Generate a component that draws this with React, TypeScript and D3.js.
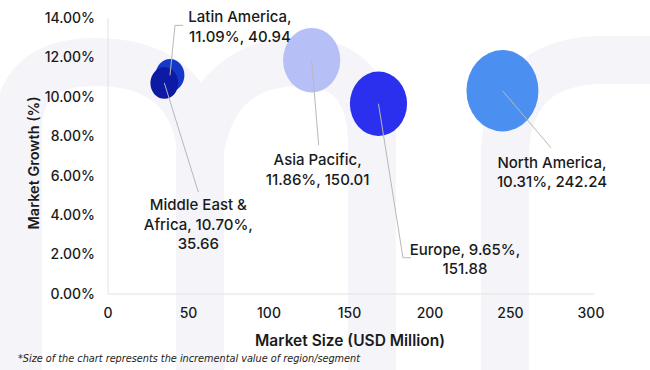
import React from "react";
import * as d3 from "d3";

const regions = ["Latin America", "Middle East & Africa", "Asia Pacific", "Europe", "North America"];
// bubble positions as plotted in the picture
const marketSize = [38.5, 35, 126.5, 168, 245];
const marketGrowth = [11.09, 10.7, 11.86, 9.65, 10.31];
// relative incremental value (bubble area)
const increment = [16, 15, 63, 63, 100];
const labelText = [
  ["Latin America,", "11.09%, 40.94"],
  ["Middle East &", "Africa, 10.70%,", "35.66"],
  ["Asia Pacific,", "11.86%, 150.01"],
  ["Europe, 9.65%,", "151.88"],
  ["North America,", "10.31%, 242.24"],
];
const colors = ["#1438c8", "#0c1aa4", "#b6c0f6", "#2b30ef", "#4b8ff0"];
const xTicks = [0, 50, 100, 150, 200, 250, 300];
const yTicks = [0, 2, 4, 6, 8, 10, 12, 14];

// leader line bends and label anchors, offsets in px from the bubble centre
const layout = [
  { line: [[5, -50], [13, -50]], label: [70, -53] },
  { line: [[34, 109]], label: [34, 127] },
  { line: [[7, 85]], label: [6, 105] },
  { line: [[24.5, 154], [32.5, 154]], label: [86.5, 151] },
  { line: [[48.5, 57]], label: [49.5, 77] },
];

const W = 650;
const H = 370;
const font = "Inter, 'Open Sans', sans-serif";

export default function App() {
  const x = d3.scaleLinear().domain([0, 300]).range([108, 591]);
  const y = d3.scaleLinear().domain([0, 14]).range([294, 18]);
  const r = d3.scaleSqrt().domain([0, 100]).range([0, 36]);
  const line = d3.line();

  // draw order: Latin America first so Middle East & Africa sits on top of it
  const order = [0, 1, 2, 3, 4];

  return (
    <svg width={W} height={H} style={{ position: "absolute", left: 0, top: 0, background: "#fff" }}>
      {/* faint watermark */}
      <g fill="none" stroke="#f4f4f9" strokeWidth={48} strokeLinecap="butt">
        <path d="M18,370 V130 Q18,62 95,62 Q185,62 200,140 V370" />
        <path d="M200,150 Q215,62 300,62 Q370,62 372,140 V370" />
        <path d="M505,370 V150 Q510,62 600,60 H650" />
      </g>

      {/* axes */}
      <line x1={x(0)} x2={x(0)} y1={y(14)} y2={y(0)} stroke="#e2e2e2" />
      <line x1={x(0)} x2={x(300) + 3} y1={y(0)} y2={y(0)} stroke="#e2e2e2" />

      <g fontFamily={font} fontSize={14} fontWeight={500} fill="#1a1a1a">
        {yTicks.map((t) => (
          <text key={t} x={95} y={y(t)} dy="0.35em" textAnchor="end">
            {t.toFixed(2) + "%"}
          </text>
        ))}
        {xTicks.map((t) => (
          <text key={t} x={x(t)} y={318} textAnchor="middle">
            {t}
          </text>
        ))}
      </g>

      <text
        transform={`translate(39,${163}) rotate(-90)`}
        textAnchor="middle"
        fontFamily={font}
        fontSize={14.5}
        fontWeight={600}
        fill="#1a1a1a"
      >
        Market Growth (%)
      </text>
      <text x={350} y={346} textAnchor="middle" fontFamily={font} fontSize={15.5} fontWeight={600} fill="#1a1a1a">
        Market Size (USD Million)
      </text>
      <text
        x={18}
        y={362}
        fontFamily="'Liberation Sans Narrow', 'DejaVu Sans Condensed', sans-serif"
        fontStyle="italic"
        fontSize={11}
        fill="#222"
        textLength={342}
        lengthAdjust="spacingAndGlyphs"
      >
        *Size of the chart represents the incremental value of region/segment
      </text>

      {/* bubbles */}
      {order.map((i) => (
        <ellipse
          key={regions[i]}
          cx={x(marketSize[i])}
          cy={y(marketGrowth[i])}
          rx={r(increment[i])}
          ry={r(increment[i]) * 1.13}
          fill={colors[i]}
        />
      ))}

      {/* leader lines */}
      {regions.map((name, i) => {
        const cx = x(marketSize[i]);
        const cy = y(marketGrowth[i]);
        const pts: [number, number][] = [[cx, cy], ...layout[i].line.map((p) => [cx + p[0], cy + p[1]] as [number, number])];
        return <path key={name} d={line(pts) || ""} fill="none" stroke="#b8b8b8" strokeWidth={1} />;
      })}

      {/* labels */}
      <g fontFamily={font} fontSize={15} fontWeight={500} fill="#1a1a1a" textAnchor="middle">
        {regions.map((name, i) => {
          const lx = x(marketSize[i]) + layout[i].label[0];
          const ly = y(marketGrowth[i]) + layout[i].label[1];
          return (
            <text key={name} x={lx} y={ly}>
              {labelText[i].map((t, k) => (
                <tspan key={k} x={lx} y={ly + k * 19.5}>
                  {t}
                </tspan>
              ))}
            </text>
          );
        })}
      </g>
    </svg>
  );
}
